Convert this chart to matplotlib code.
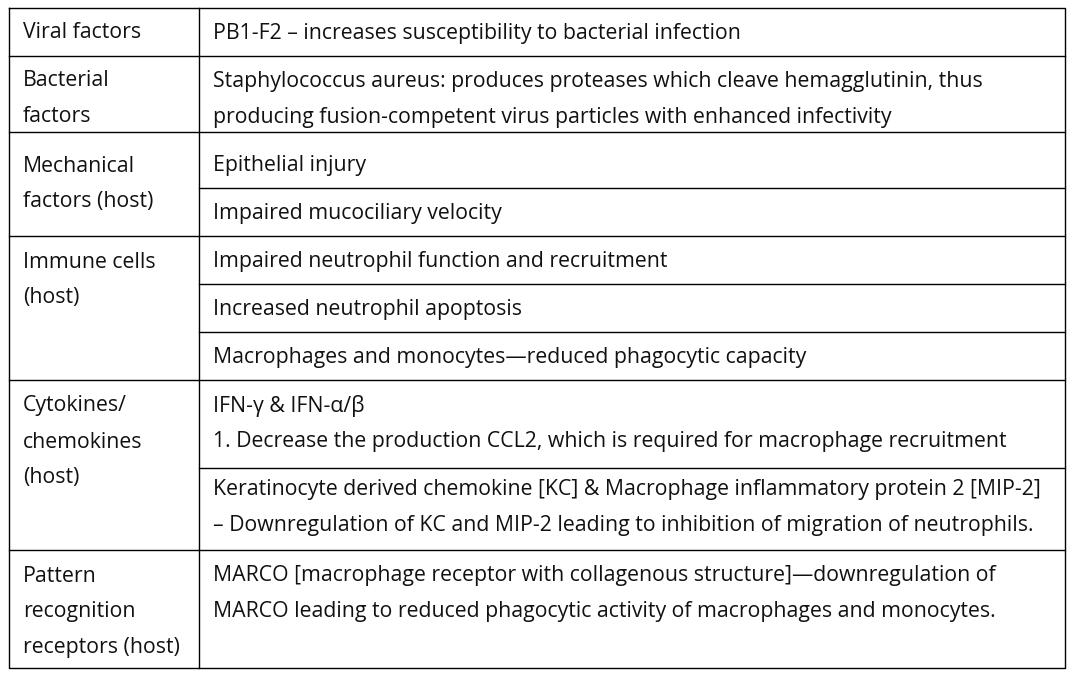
import matplotlib
matplotlib.use("Agg")
import matplotlib.pyplot as plt

W, H = 1075, 678
left_texts = [
    ("Viral factors", [32]),
    ("Bacterial", [80]), ("factors", [116]),
    ("Mechanical", [165]), ("factors (host)", [200]),
    ("Immune cells", [261]), ("(host)", [296]),
    ("Cytokines/", [405]), ("chemokines", [441]), ("(host)", [477]),
    ("Pattern", [575]), ("recognition", [611]), ("receptors (host)", [647]),
]
right_texts = [
    ("PB1-F2 – increases susceptibility to bacterial infection", 32),
    ("Staphylococcus aureus: produces proteases which cleave hemagglutinin, thus", 80),
    ("producing fusion-competent virus particles with enhanced infectivity", 116),
    ("Epithelial injury", 165),
    ("Impaired mucociliary velocity", 213),
    ("Impaired neutrophil function and recruitment", 261),
    ("Increased neutrophil apoptosis", 309),
    ("Macrophages and monocytes—reduced phagocytic capacity", 357),
    ("IFN-γ & IFN-α/β", 405),
    ("1. Decrease the production CCL2, which is required for macrophage recruitment", 441),
    ("Keratinocyte derived chemokine [KC] & Macrophage inflammatory protein 2 [MIP-2]", 489),
    ("– Downregulation of KC and MIP-2 leading to inhibition of migration of neutrophils.", 525),
    ("MARCO [macrophage receptor with collagenous structure]—downregulation of", 575),
    ("MARCO leading to reduced phagocytic activity of macrophages and monocytes.", 611),
]
x0, xm, x1, y0, y1 = 9, 199, 1065, 8, 668
full_lines = [56, 132, 236, 380, 550]
inner_lines = [188, 284, 332, 468]

fig = plt.figure(figsize=(W/100, H/100), dpi=100)
ax = fig.add_axes([0, 0, 1, 1])
ax.set_xlim(0, W); ax.set_ylim(H, 0); ax.axis("off")
lw = 1.0
ax.plot([x0, x1, x1, x0, x0], [y0, y0, y1, y1, y0], color="black", lw=lw)
ax.plot([xm, xm], [y0, y1], color="black", lw=lw)
for y in full_lines:
    ax.plot([x0, x1], [y, y], color="black", lw=lw)
for y in inner_lines:
    ax.plot([xm, x1], [y, y], color="black", lw=lw)
fs = 15.3
fam = ["Open Sans", "DejaVu Sans"]
for t, ys in left_texts:
    for y in ys:
        ax.text(23, y + 1, t, fontsize=fs, va="center", ha="left", family=fam, color="#111")
for t, y in right_texts:
    ax.text(213, y + 1, t, fontsize=fs, va="center", ha="left", family=fam, color="#111")
fig.savefig("out.png", dpi=100, facecolor="white")
